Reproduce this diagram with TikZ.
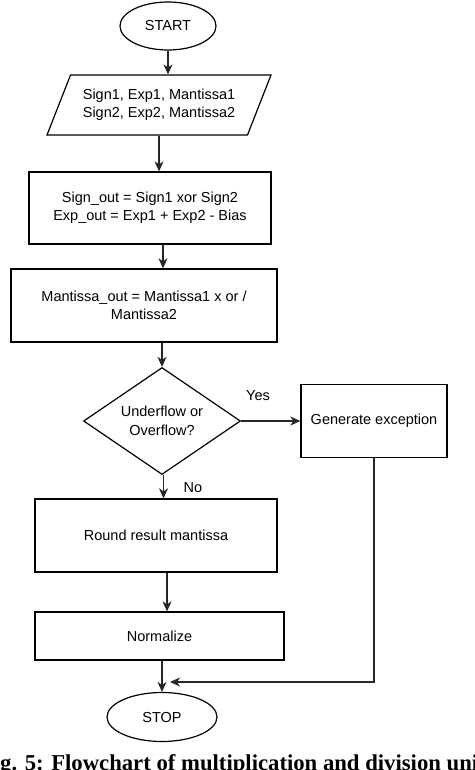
\documentclass[tikz,border=0pt]{standalone}
\usepackage{fontspec}
\setmainfont{Liberation Sans}
\newfontfamily\capfont{Liberation Serif}
\usetikzlibrary{shapes.geometric,arrows.meta}
\begin{document}
\begin{tikzpicture}[x=1pt,y=-1pt,
  txt/.style={font=\fontsize{14.5}{18.5}\selectfont, text=black, align=center, inner sep=0pt},
  boxst/.style={txt, draw=black, line width=1.3pt, rectangle},
  termst/.style={txt, draw=black, line width=1.2pt, ellipse},
  arr/.style={draw=black!85, line width=1.2pt, -{Stealth[length=10pt,width=9pt,inset=3pt]}},
  lbl/.style={font=\fontsize{14.5}{17}\selectfont, text=black, inner sep=0pt}]
\useasboundingbox (0,0) rectangle (474,770);
\clip (0,0) rectangle (474,770);
\fill[white] (0,0) rectangle (474,770);

\node[termst, minimum width=96pt, minimum height=48pt] (start) at (168,26) {START};
\node[txt, draw=black, line width=1.2pt, trapezium, trapezium left angle=53.7, trapezium right angle=126.3,
      trapezium stretches body, minimum width=224pt, minimum height=60pt] (in) at (159,105)
      {Sign1, Exp1, Mantissa1\\Sign2, Exp2, Mantissa2};
\node[boxst, minimum width=242pt, minimum height=72pt] (b1) at (150,208)
      {Sign\_out = Sign1 xor Sign2\\Exp\_out = Exp1 + Exp2 - Bias};
\node[boxst, minimum width=266pt, minimum height=73pt] (b2) at (144,305.5)
      {Mantissa\_out = Mantissa1 x or /\\Mantissa2};
\node[txt, draw=black, line width=1.2pt, diamond, aspect=1.47, minimum width=157pt, minimum height=107pt] (d) at (162,421)
      {Underflow or\\Overflow?};
\node[boxst, minimum width=146pt, minimum height=73pt] (exc) at (374,421) {Generate exception};
\node[boxst, minimum width=242pt, minimum height=73pt] (b3) at (156,535.5) {Round result mantissa};
\node[boxst, minimum width=249pt, minimum height=48pt] (norm) at (159.5,636) {Normalize};
\node[termst, minimum width=110pt, minimum height=49pt] (stop) at (162,717) {STOP};
\coordinate (m) at (170,682);

\node[lbl] (yes) at (258,396) {Yes};
\node[lbl] (no) at (193,488) {No};

\draw[arr] (start.south) -- (start.south |- in.north);
\draw[arr] (in.south) -- (in.south |- b1.north);
\draw[arr] ([xshift=13pt]b1.south) -- ([xshift=13pt]b1.south |- b2.north);
\draw[arr] ([xshift=18pt]b2.south) -- (d.north);
\draw[arr] (d.east) -- (exc.west);
\draw[arr] ([xshift=1.5pt]d.south) -- ([xshift=1.5pt]d.south |- b3.north);
\draw[arr] ([xshift=11pt]b3.south) -- ([xshift=11pt]b3.south |- norm.north);
\draw[arr] (norm.south -| stop.north) -- (stop.north);
\draw[arr] (exc.south) |- (m);

\node[anchor=base west, inner sep=0pt, font=\capfont\bfseries\fontsize{22.7}{24}\selectfont] (cap) at (0,770.5)
  {g. 5: Flowchart of multiplication and division uni};
\end{tikzpicture}
\end{document}
